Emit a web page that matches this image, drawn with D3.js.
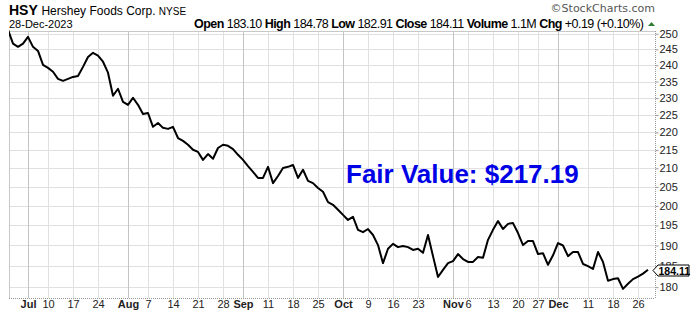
<!DOCTYPE html>
<html>
<head>
<meta charset="utf-8">
<script src="https://cdn.jsdelivr.net/npm/d3@7"></script>
<style>
  body { margin: 0; background: #fff; }
  svg { display: block; font-family: 'Liberation Sans', Arial, sans-serif; }
</style>
</head>
<body>
<div id="container"></div>
<script>
// trading days per month (2023)
const junDays = [27, 28, 29, 30];
const julDays = [3, 5, 6, 7, 10, 11, 12, 13, 14, 17, 18, 19, 20, 21, 24, 25, 26, 27, 28, 31];
const augDays = [1, 2, 3, 4, 7, 8, 9, 10, 11, 14, 15, 16, 17, 18, 21, 22, 23, 24, 25, 28, 29, 30, 31];
const sepDays = [1, 5, 6, 7, 8, 11, 12, 13, 14, 15, 18, 19, 20, 21, 22, 25, 26, 27, 28, 29];
const octDays = [2, 3, 4, 5, 6, 9, 10, 11, 12, 13, 16, 17, 18, 19, 20, 23, 24, 25, 26, 27, 30, 31];
const novDays = [1, 2, 3, 6, 7, 8, 9, 10, 13, 14, 15, 16, 17, 20, 21, 22, 24, 27, 28, 29, 30];
const decDays = [1, 4, 5, 6, 7, 8, 11, 12, 13, 14, 15, 18, 19, 20, 21, 22, 26, 27, 28];

// daily close
const closes = [
  251.3, 246.8, 245.8, 246.8,
  249.0, 245.8, 244.5, 240.1, 239.2, 238.0, 235.8, 235.2, 235.8, 236.4,
  236.7, 239.5, 242.6, 243.9, 243.0, 241.1, 237.7, 230.7, 232.8, 228.9,
  228.0, 230.1, 228.0, 225.3, 225.6, 221.6, 222.7, 221.3, 221.0, 221.6,
  218.4, 217.6, 216.5, 215.1, 214.5, 212.3, 213.9, 212.6, 215.6, 216.5,
  216.2, 215.3, 213.7,
  212.3, 210.6, 209.0, 207.4, 207.4, 210.4, 206.0, 207.9, 210.1, 210.4,
  210.9, 207.4, 209.6, 206.6, 206.0, 204.7, 203.7, 201.0, 200.3, 199.0,
  197.7, 196.4, 197.2, 193.9, 193.3, 194.1, 192.6, 190.1, 185.7, 189.2,
  190.4, 189.6, 189.9, 189.6, 188.9, 189.2, 188.2, 192.6, 187.4, 182.4,
  184.1, 185.7,
  186.2, 187.9, 186.7, 186.0, 186.0, 187.2, 187.0, 191.4, 193.9, 196.1,
  194.1, 195.4, 195.6, 193.1, 190.1, 191.1, 191.1, 187.9, 188.1, 185.3,
  187.6,
  190.6, 190.0, 187.4, 188.4, 188.4, 185.5, 185.0, 184.3, 188.4, 186.0,
  181.5, 181.9, 182.1, 179.6, 180.8, 181.9, 182.5, 183.2, 184.11
];

const tickDates = ['2023-07-03', '2023-07-10', '2023-07-17', '2023-07-24', '2023-08-01', '2023-08-07',
  '2023-08-14', '2023-08-21', '2023-08-28', '2023-09-01', '2023-09-11', '2023-09-18', '2023-09-25',
  '2023-10-02', '2023-10-09', '2023-10-16', '2023-10-23', '2023-11-01', '2023-11-06', '2023-11-13',
  '2023-11-20', '2023-11-27', '2023-12-01', '2023-12-11', '2023-12-18', '2023-12-26'];
const tickLabels = ['Jul', '10', '17', '24', 'Aug', '7', '14', '21', '28', 'Sep', '11', '18', '25',
  'Oct', '9', '16', '23', 'Nov', '6', '13', '20', '27', 'Dec', '11', '18', '26'];
const priceTicks = [180, 185, 190, 195, 200, 205, 210, 215, 220, 225, 230, 235, 240, 245, 250];

const quoteLabels = ['Open', 'High', 'Low', 'Close', 'Volume', 'Chg'];
const quoteValues = ['183.10', '184.78', '182.91', '184.11', '1.1M', '+0.19 (+0.10%)'];
const fairValue = 'Fair Value: $217.19';

const pad = n => String(n).padStart(2, '0');
const dates = [];
[[6, junDays], [7, julDays], [8, augDays], [9, sepDays], [10, octDays], [11, novDays], [12, decDays]]
  .forEach(([m, days]) => days.forEach(d => dates.push(`2023-${pad(m)}-${pad(d)}`)));
const data = dates.map((d, i) => ({ date: d, i: i, close: closes[i] }));

const width = 692, height = 310;
const plot = { left: 9, right: 655, top: 31, bottom: 298 };

const svg = d3.select('#container').append('svg')
  .attr('width', width)
  .attr('height', height);

const xScale = d3.scaleLinear()
  .domain([0.2, 129.4])
  .range([plot.left, plot.right]);

const yScale = d3.scaleLog()
  .domain([177.5, 250.9])
  .range([plot.bottom, plot.top]);

const idx = d => dates.indexOf(d);

//horizontal grid
svg.append('g')
  .selectAll('line')
  .data(priceTicks)
  .join('line')
  .attr('x1', plot.left).attr('x2', plot.right)
  .attr('y1', d => Math.round(yScale(d)) + 0.5)
  .attr('y2', d => Math.round(yScale(d)) + 0.5)
  .style('stroke', '#e0e0e0');

//vertical grid
svg.append('g')
  .selectAll('line')
  .data(tickDates)
  .join('line')
  .attr('x1', d => Math.round(xScale(idx(d))) + 0.5)
  .attr('x2', d => Math.round(xScale(idx(d))) + 0.5)
  .attr('y1', plot.top).attr('y2', plot.bottom)
  .style('stroke', (d, i) => isNaN(+tickLabels[i]) ? '#c4c4c4' : '#e0e0e0');

//frame
svg.append('line')
  .attr('x1', plot.left).attr('x2', plot.right)
  .attr('y1', plot.top + 0.5).attr('y2', plot.top + 0.5)
  .style('stroke', '#c8c8c8');
svg.append('line')
  .attr('x1', plot.left + 0.5).attr('x2', plot.left + 0.5)
  .attr('y1', plot.top).attr('y2', plot.bottom)
  .style('stroke', '#c8c8c8');
svg.append('line')
  .attr('x1', plot.right + 0.5).attr('x2', plot.right + 0.5)
  .attr('y1', plot.top).attr('y2', plot.bottom)
  .style('stroke', '#999')
  .style('stroke-dasharray', '1,1');
svg.append('line')
  .attr('x1', plot.left).attr('x2', plot.right)
  .attr('y1', plot.bottom + 0.5).attr('y2', plot.bottom + 0.5)
  .style('stroke', '#999')
  .style('stroke-dasharray', '1,1');

//right axis
const yAxis = svg.append('g')
  .attr('transform', `translate(${plot.right + 0.5},0)`)
  .call(d3.axisRight(yScale).tickValues(priceTicks).tickFormat(d3.format('d')).tickSize(3).tickPadding(1));
yAxis.select('.domain').remove();
yAxis.selectAll('.tick line').style('stroke', '#999');
yAxis.selectAll('.tick text')
  .style('font-size', '11px')
  .style('fill', '#222')
  .style('font-family', "'Liberation Sans', Arial, sans-serif");

//bottom labels
svg.append('g')
  .selectAll('text')
  .data(tickDates)
  .join('text')
  .attr('x', d => xScale(idx(d)) + 0.5)
  .attr('y', 308)
  .attr('text-anchor', 'middle')
  .style('font-size', '11px')
  .style('font-weight', (d, i) => isNaN(+tickLabels[i]) ? 'bold' : 'normal')
  .style('fill', '#222')
  .text((d, i) => tickLabels[i]);

//price line
svg.append('clipPath').attr('id', 'clip')
  .append('rect')
  .attr('x', plot.left).attr('y', plot.top - 2)
  .attr('width', plot.right - plot.left).attr('height', plot.bottom - plot.top + 2);

const line = d3.line()
  .x(d => xScale(d.i))
  .y(d => yScale(d.close));

svg.append('path')
  .datum(data)
  .attr('clip-path', 'url(#clip)')
  .attr('d', line)
  .style('fill', 'none')
  .style('stroke', '#000')
  .style('stroke-width', 2)
  .style('stroke-linejoin', 'round');

//last price tag
const last = data[data.length - 1];
const ly = Math.round(yScale(last.close)) + 0.5;
const tag = svg.append('g').attr('transform', `translate(${plot.right - 2},${ly})`);
tag.append('path')
  .attr('d', 'M0,0 L5,-5.5 H36 V5.5 H5 Z')
  .style('fill', '#fff')
  .style('stroke', '#000')
  .style('stroke-width', 1);
tag.append('text')
  .attr('x', 5.5)
  .attr('y', 4)
  .style('font-size', '10.5px')
  .style('font-weight', 'bold')
  .text(d3.format('.2f')(last.close));

//header
const title = svg.append('text').attr('x', 9).attr('y', 15);
title.append('tspan').style('font-size', '14px').style('font-weight', 'bold').text('HSY ');
title.append('tspan').style('font-size', '12px').text('Hershey Foods Corp. ');
title.append('tspan').style('font-size', '10px').text('NYSE');

svg.append('text')
  .attr('x', 9).attr('y', 28)
  .style('font-size', '11px')
  .text('28-Dec-2023');

const quote = svg.append('text')
  .attr('x', 194).attr('y', 28)
  .attr('textLength', 450)
  .attr('lengthAdjust', 'spacing')
  .style('font-size', '12.5px');
quoteLabels.forEach((l, i) => {
  quote.append('tspan').style('font-weight', 'bold').text((i ? ' ' : '') + l + ' ');
  quote.append('tspan').text(quoteValues[i]);
});

svg.append('path')
  .attr('d', 'M648,26 L651.5,22 L655,26 Z')
  .style('fill', '#2e7d32');

svg.append('text')
  .attr('x', 655).attr('y', 12)
  .attr('text-anchor', 'end')
  .style('font-size', '11px')
  .style('fill', '#555')
  .style('font-family', "'DejaVu Sans', sans-serif")
  .text('\u00a9StockCharts.com');

//fair value annotation
svg.append('text')
  .attr('x', 346).attr('y', 183)
  .style('font-size', '26px')
  .style('font-weight', 'bold')
  .style('fill', '#0000e6')
  .text(fairValue);
</script>
</body>
</html>
